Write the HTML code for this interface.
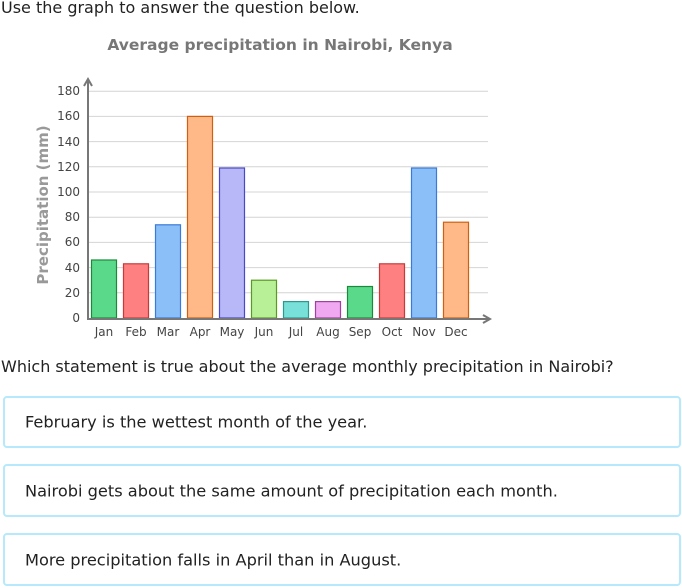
<!DOCTYPE html>
<html><head><meta charset="utf-8"><style>
body{margin:0;width:682px;height:588px;background:#fff;font-family:"DejaVu Sans","Liberation Sans",sans-serif;color:#222;position:relative;overflow:hidden}
.t{position:absolute;left:1px;font-size:16px;white-space:nowrap}
.b{position:absolute;left:3px;width:678px;border:2px solid #b5e9fb;border-radius:4px;box-sizing:border-box;font-size:16.2px}
.b span{position:absolute;left:20px;top:50%;transform:translateY(-50%);white-space:nowrap}
</style></head><body>
<div class="t" style="top:-2px">Use the graph to answer the question below.</div>
<svg style="position:absolute;left:0;top:0" width="682" height="350" font-family="DejaVu Sans,Liberation Sans,sans-serif">
<text x="280" y="50" text-anchor="middle" font-size="15.5" font-weight="bold" fill="#777">Average precipitation in Nairobi, Kenya</text>
<g stroke="#d4d4d4" stroke-width="1">
<line x1="88" x2="488" y1="292.8" y2="292.8"/><line x1="88" x2="488" y1="267.6" y2="267.6"/><line x1="88" x2="488" y1="242.4" y2="242.4"/><line x1="88" x2="488" y1="217.2" y2="217.2"/><line x1="88" x2="488" y1="192" y2="192"/><line x1="88" x2="488" y1="166.8" y2="166.8"/><line x1="88" x2="488" y1="141.6" y2="141.6"/><line x1="88" x2="488" y1="116.4" y2="116.4"/><line x1="88" x2="488" y1="91.2" y2="91.2"/>
</g>
<g font-size="12" fill="#444" text-anchor="end">
<text x="80" y="322">0</text><text x="80" y="297">20</text><text x="80" y="272">40</text><text x="80" y="246">60</text><text x="80" y="221">80</text><text x="80" y="196">100</text><text x="80" y="171">120</text><text x="80" y="146">140</text><text x="80" y="120">160</text><text x="80" y="95">180</text>
</g>
<text transform="translate(48,205) rotate(-90)" text-anchor="middle" font-size="15" font-weight="bold" fill="#999">Precipitation (mm)</text>
<g stroke-width="1.2">
<rect x="91.5" y="260" width="25" height="58" fill="#5ad98a" stroke="#1a8a3a"/>
<rect x="123.5" y="263.8" width="25" height="54.2" fill="#ff8080" stroke="#c83a3a"/>
<rect x="155.5" y="224.8" width="25" height="93.2" fill="#8abff8" stroke="#3a7ad8"/>
<rect x="187.5" y="116.4" width="25" height="201.6" fill="#ffb888" stroke="#d06010"/>
<rect x="219.5" y="168" width="25" height="150" fill="#b8b8f8" stroke="#4848c8"/>
<rect x="251.5" y="280.2" width="25" height="37.8" fill="#b8f098" stroke="#5a9a20"/>
<rect x="283.5" y="301.6" width="25" height="16.4" fill="#78e0d8" stroke="#2a9a90"/>
<rect x="315.5" y="301.6" width="25" height="16.4" fill="#f0a8f0" stroke="#a040a0"/>
<rect x="347.5" y="286.5" width="25" height="31.5" fill="#5ad98a" stroke="#1a8a3a"/>
<rect x="379.5" y="263.8" width="25" height="54.2" fill="#ff8080" stroke="#c83a3a"/>
<rect x="411.5" y="168" width="25" height="150" fill="#8abff8" stroke="#3a7ad8"/>
<rect x="443.5" y="222.2" width="25" height="95.8" fill="#ffb888" stroke="#d06010"/>
</g>
<g stroke="#777" stroke-width="2" fill="none">
<line x1="88" y1="319" x2="88" y2="80"/><line x1="87" y1="319" x2="490" y2="319"/>
<polyline points="84,86 88,79 92,86"/><polyline points="483,315 490,319 483,323"/>
</g>
<g font-size="12" fill="#444" text-anchor="middle">
<text x="104" y="336">Jan</text><text x="136" y="336">Feb</text><text x="168" y="336">Mar</text><text x="200" y="336">Apr</text><text x="232" y="336">May</text><text x="264" y="336">Jun</text><text x="296" y="336">Jul</text><text x="328" y="336">Aug</text><text x="360" y="336">Sep</text><text x="392" y="336">Oct</text><text x="424" y="336">Nov</text><text x="456" y="336">Dec</text>
</g>
</svg>
<div class="t" style="top:357px">Which statement is true about the average monthly precipitation in Nairobi?</div>
<div class="b" style="top:396px;height:52px"><span>February is the wettest month of the year.</span></div>
<div class="b" style="top:464px;height:53px"><span>Nairobi gets about the same amount of precipitation each month.</span></div>
<div class="b" style="top:533px;height:53px"><span>More precipitation falls in April than in August.</span></div>
</body></html>
